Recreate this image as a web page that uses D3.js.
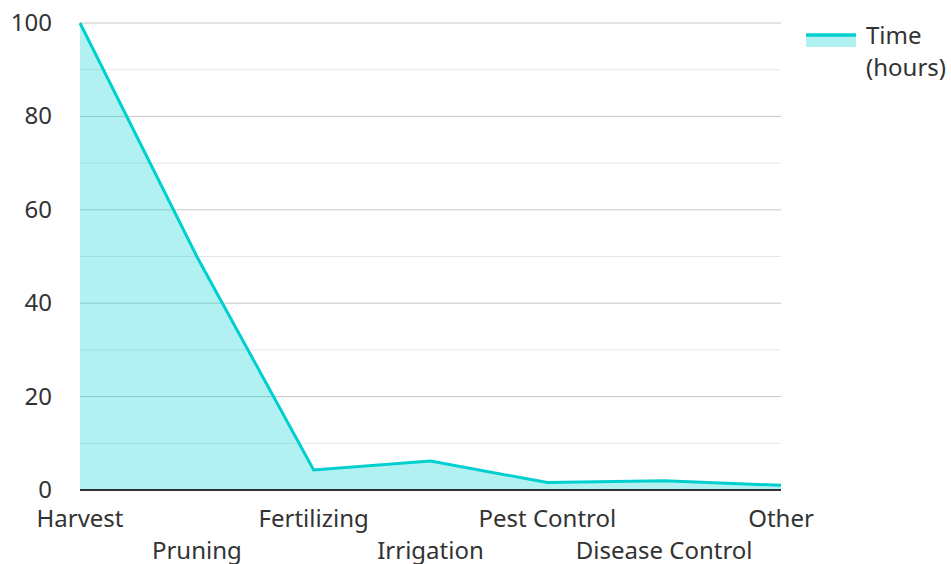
<!DOCTYPE html>
<html><head><meta charset="utf-8">
<script src="https://cdn.jsdelivr.net/npm/d3@7"></script>
<style>body{margin:0;background:#fff;font-family:"Noto Sans",sans-serif;}</style>
</head><body>
<svg id="c" width="951" height="564"></svg>
<script>
const categories = ["Harvest","Pruning","Fertilizing","Irrigation","Pest Control","Disease Control","Other"];
const values = [100, 50, 4.3, 6.2, 1.6, 2, 1];
const yTicks = [0,20,40,60,80,100];
const yMinor = [10,30,50,70,90];
const seriesName = ["Time","(hours)"];

const svg = d3.select("#c");
const m = {l:80, r:170, t:23, b:74};
const W = 951, H = 564;
const x = d3.scalePoint().domain(categories).range([m.l, W - m.r]);
const y = d3.scaleLinear().domain([0,100]).range([H - m.b, m.t]);
const color = "#00cfcf";
const fs = 24;

// grid
svg.append("g").selectAll("line").data(yMinor).join("line")
  .attr("x1", m.l).attr("x2", W - m.r).attr("y1", d=>y(d)).attr("y2", d=>y(d))
  .attr("stroke", "#e6e6e6").attr("stroke-width", 1);
svg.append("g").selectAll("line").data(yTicks.slice(1)).join("line")
  .attr("x1", m.l).attr("x2", W - m.r).attr("y1", d=>y(d)).attr("y2", d=>y(d))
  .attr("stroke", "#c8c8c8").attr("stroke-width", 1);

// y labels
svg.append("g").selectAll("text").data(yTicks).join("text")
  .attr("x", 52).attr("y", d=>y(d) + 8)
  .attr("text-anchor", "end").attr("font-size", fs).attr("fill", "#333")
  .text(d=>d);

// area
const data = categories.map((c,i)=>({c, v: values[i]}));
svg.append("path").datum(data)
  .attr("d", d3.area().x(d=>x(d.c)).y0(y(0)).y1(d=>y(d.v)))
  .attr("fill", color).attr("fill-opacity", 0.3);
svg.append("path").datum(data)
  .attr("d", d3.line().x(d=>x(d.c)).y(d=>y(d.v)))
  .attr("fill", "none").attr("stroke", color).attr("stroke-width", 3);

// x axis line
svg.append("line").attr("x1", m.l).attr("x2", W - m.r).attr("y1", y(0)).attr("y2", y(0))
  .attr("stroke", "#333").attr("stroke-width", 2);

// x labels
svg.append("g").selectAll("text").data(categories).join("text")
  .attr("x", d=>x(d)).attr("y", (d,i)=> i%2===0 ? 527 : 559)
  .attr("text-anchor", "middle").attr("font-size", fs).attr("fill", "#333")
  .text(d=>d);

// legend
const lg = svg.append("g");
lg.append("rect").attr("x", 806).attr("y", 35).attr("width", 50).attr("height", 12)
  .attr("fill", color).attr("fill-opacity", 0.3);
lg.append("line").attr("x1", 806).attr("x2", 856).attr("y1", 35).attr("y2", 35)
  .attr("stroke", color).attr("stroke-width", 3.5);
lg.selectAll("text").data(seriesName).join("text")
  .attr("x", 866).attr("y", (d,i)=> 44 + i*32)
  .attr("font-size", fs).attr("fill", "#333").text(d=>d);
</script>
</body></html>
